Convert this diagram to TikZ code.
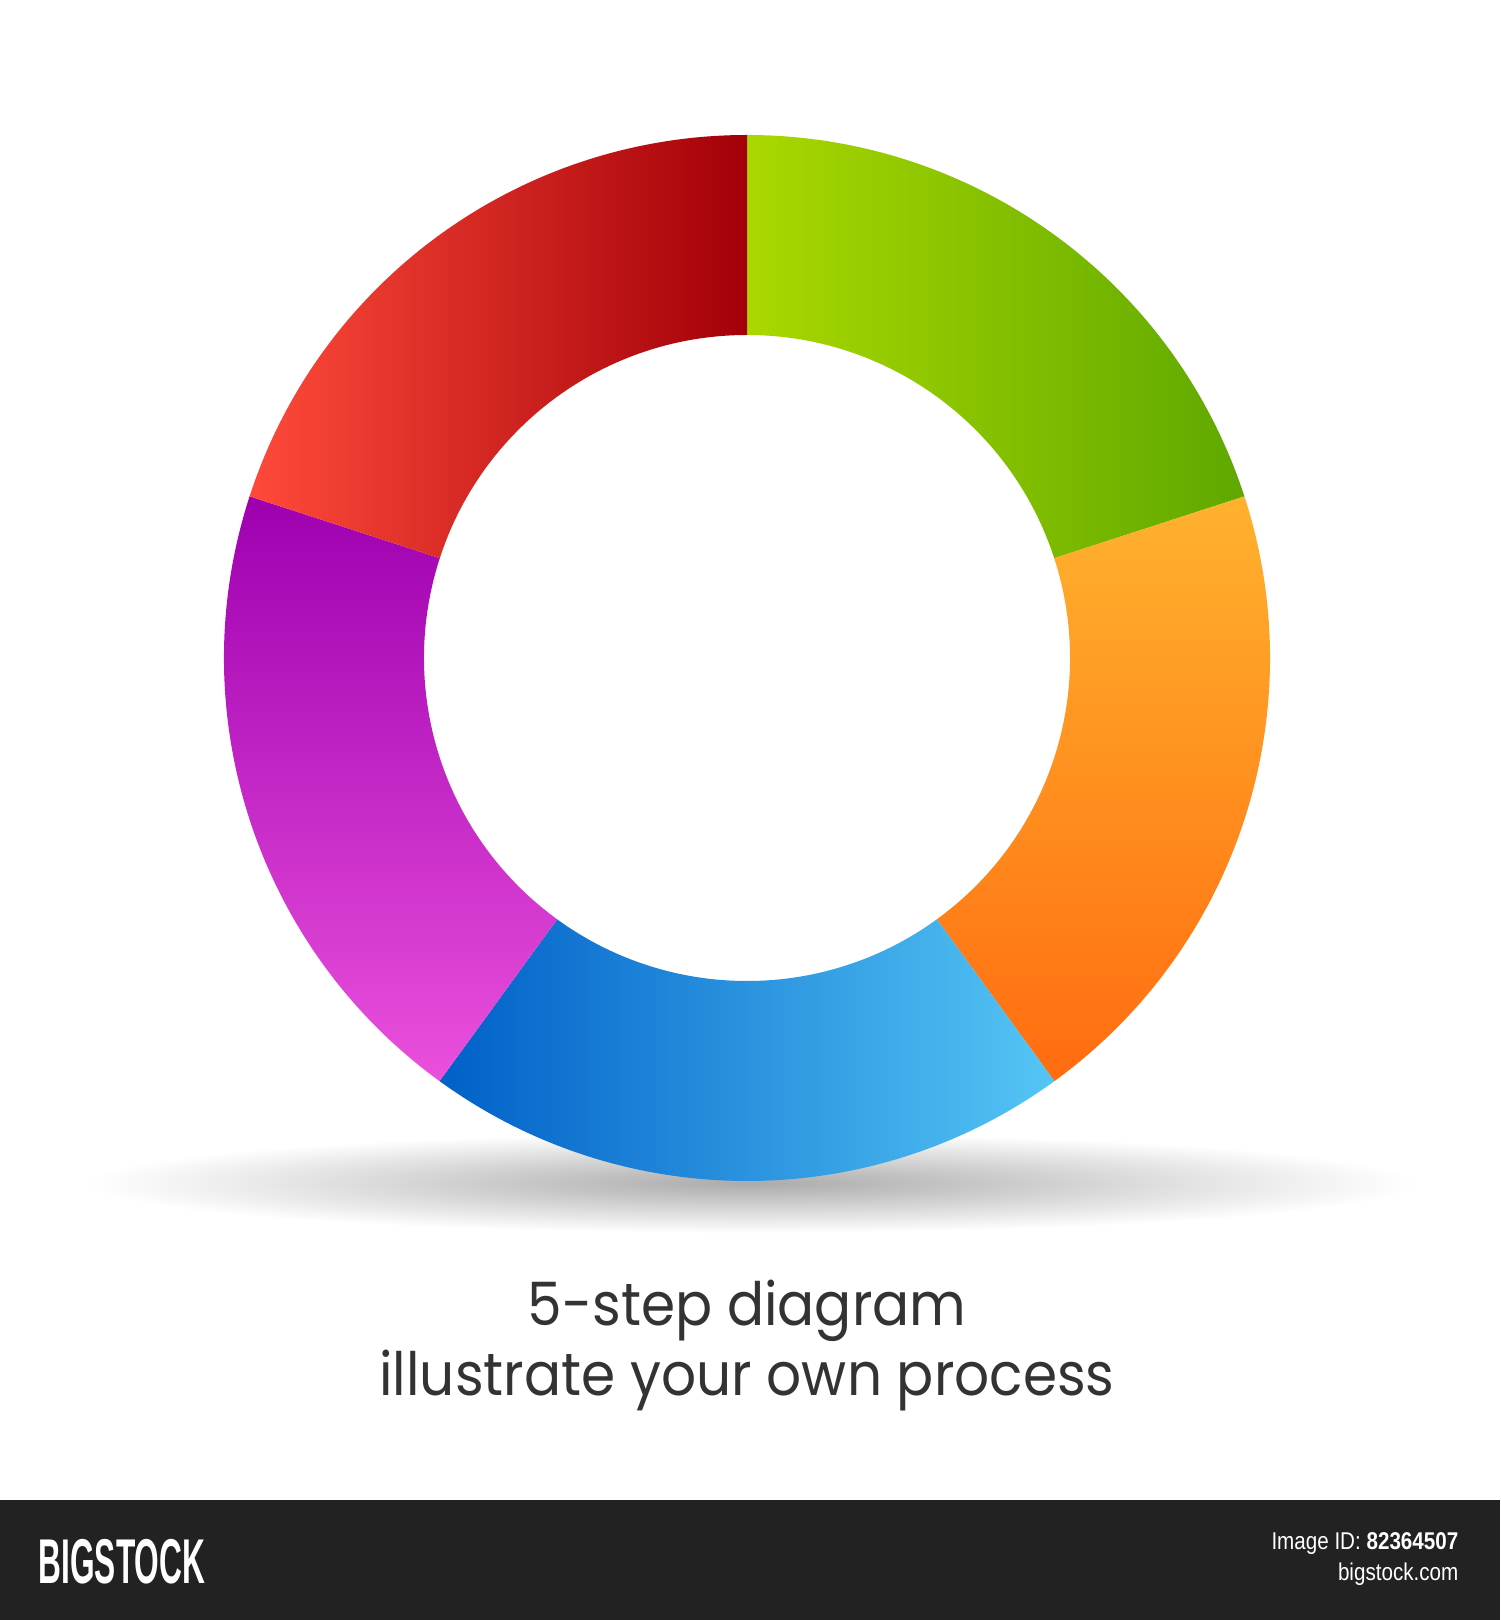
\documentclass[tikz,border=0pt]{standalone}
\usepackage{fontspec}
\newfontfamily\captionfont[FakeStretch=0.92]{Poppins}
\newfontfamily\logofont[FakeStretch=0.5]{Liberation Sans}
\newfontfamily\footfont[FakeStretch=0.85]{Liberation Sans}

\definecolor{greenA}{HTML}{AAD800}
\definecolor{greenB}{HTML}{5FA800}
\definecolor{orangeA}{HTML}{FFB22E}
\definecolor{orangeB}{HTML}{FF6C10}
\definecolor{blueA}{HTML}{0060C8}
\definecolor{blueB}{HTML}{55C5F5}
\definecolor{purpleA}{HTML}{9E00B0}
\definecolor{purpleB}{HTML}{EA50DC}
\definecolor{redA}{HTML}{FF4A3A}
\definecolor{redB}{HTML}{A30008}
\definecolor{textgray}{HTML}{333333}
\definecolor{footbg}{HTML}{222222}

\begin{document}
\begin{tikzpicture}
			\tikzstyle{ringpart} = [line width=0pt]
			\tikzstyle{caption}  = [anchor=base, inner sep=0pt, text=textgray, font=\captionfont\fontsize{17}{20}\selectfont]
			\tikzstyle{footnote} = [anchor=base east, inner sep=0pt, text=white, font=\footfont\fontsize{6.9}{8}\selectfont]

			\useasboundingbox (-7.47,-9.62) rectangle (7.53,6.58);

			% shadow under the ring
			\shade[inner color=black!33, outer color=white] (0.04,-5.25) ellipse [x radius=6.65, y radius=0.5];

			\foreach \name/\from/\to/\ca/\cb/\ang in {green/18/90/greenA/greenB/90, orange/-54/18/orangeA/orangeB/0, blue/-126/-54/blueA/blueB/90, purple/162/234/purpleA/purpleB/0, red/90/162/redA/redB/90}
				\shade[ringpart, top color=\ca, bottom color=\cb, shading angle=\ang] (\from:5.23) arc[start angle=\from, end angle=\to, radius=5.23] -- (\to:3.23) arc[start angle=\to, end angle=\from, radius=3.23] -- cycle;

			\node[caption] (title) at (0,-6.67) {5-step diagram};
			\node[caption] (subtitle) at (0,-7.37) {illustrate your own process};

			% footer bar
			\fill[footbg] (-7.47,-8.42) rectangle (7.53,-9.62);
			\node[anchor=base west, inner sep=0pt, text=white, font=\logofont\bfseries\fontsize{18}{20}\selectfont] (logo) at (-7.09,-9.25) {BIGSTOCK};
			\node[footnote] (imageid) at (7.12,-8.91) {Image ID: \textbf{82364507}};
			\node[footnote] (site) at (7.12,-9.22) {bigstock.com};
		\end{tikzpicture}
\end{document}
